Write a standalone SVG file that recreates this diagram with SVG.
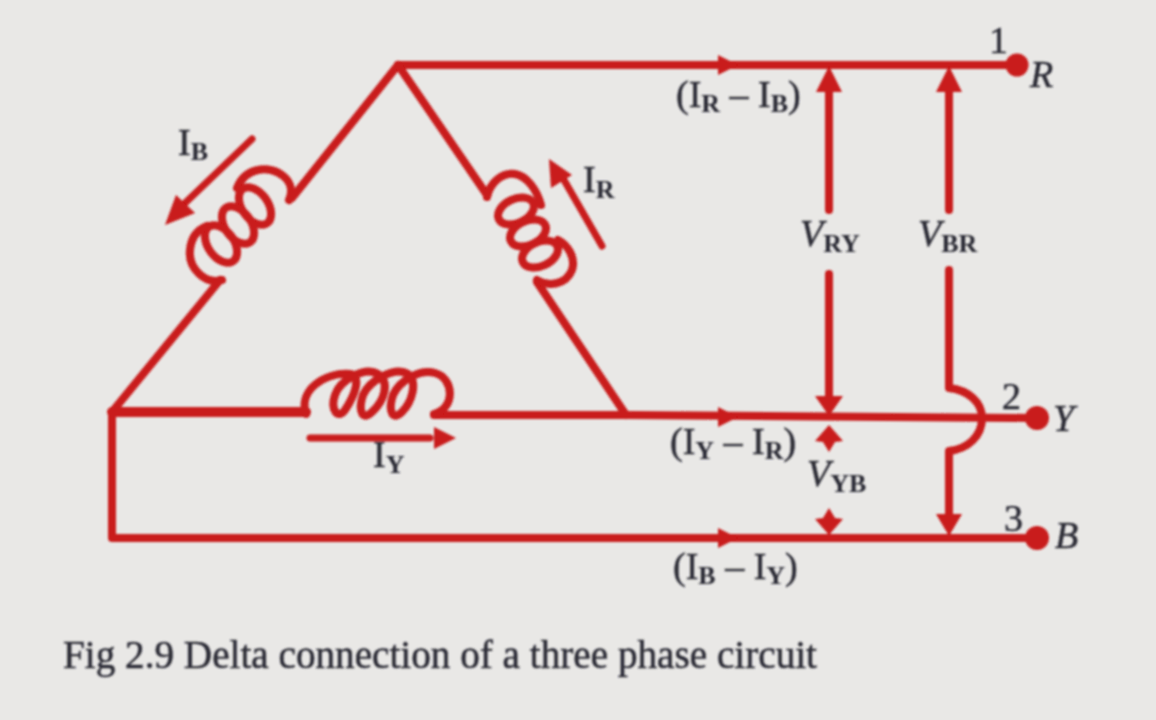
<svg xmlns="http://www.w3.org/2000/svg" width="1156" height="720" viewBox="0 0 1156 720">
<style>
.w{fill:none;stroke:#c91a1a;stroke-width:8;stroke-linecap:round;stroke-linejoin:round}
.t{fill:none;stroke:#c91a1a;stroke-width:7;stroke-linecap:round}
.c{fill:none;stroke:#c91a1a;stroke-width:8;stroke-linecap:round;stroke-linejoin:round}
.h{fill:#c91a1a;stroke:none}
text{font-family:"Liberation Serif","Times New Roman",serif;fill:#2b2b35;font-size:38px;stroke:#2b2b35;stroke-width:.5}
.s{font-size:26px;font-weight:bold;stroke-width:0}
.i{font-style:italic}
</style>
<defs>
<filter id="b" x="-5%" y="-5%" width="110%" height="110%"><feGaussianBlur stdDeviation="0.9"/></filter>
<path id="mid" class="h" d="M718,-10 L738,0 L718,10 Z"/>
</defs>
<rect id="background" width="1156" height="720" fill="#e9e8e6"/>
<g filter="url(#b)">
<g id="connectors">
<path class="w" d="M398,65 H1017"/>
<path class="w" d="M398,65 L292,198 M220,280 L112,412"/>
<path class="w" d="M398,65 L487,195 M537,282 L626,415"/>
<path class="w" style="stroke-width:10" d="M112,412 H306"/>
<path class="w" d="M434,415 L626,415 L1037,418"/>
<path class="w" d="M112,412 V538 H1037"/>
<use href="#mid" y="65"/><use href="#mid" y="417"/><use href="#mid" y="538"/>
<path class="w" d="M829,80 V210 M829,274 V405"/>
<path class="h" d="M829,66 L842,92 L816,92 Z M829,416 L815,396 L843,396 Z"/>
<path class="h" d="M829,425 L843,441 L835,442 L829,452 L823,442 L815,441 Z M829,535 L815,519 L823,518 L829,508 L835,518 L843,519 Z"/>
<path class="w" d="M949,80 V210 M949,270 V388 C968,390 982,402 982,418 C982,436 968,449 949,451 V520"/>
<path class="h" d="M949,66 L962,92 L936,92 Z M949,536 L936,514 L962,514 Z"/>
<path class="t" d="M252,139 L183,205"/>
<path class="h" d="M165,225 L176,195 L195,213 Z"/>
<path class="t" d="M602,246 L564,180"/>
<path class="h" d="M549,159 L572,175 L551,188 Z"/>
<path class="t" d="M310,438 H430"/>
<path class="h" d="M456,438 L434,427 V449 Z"/>
</g>
<g id="coil-b">
<path class="c" d="M289,200 C298,180 275,166 258,170 C248,172 241,178 237,188"/>
<ellipse class="c" cx="255" cy="206" rx="21" ry="13" transform="rotate(55 255 206)"/>
<ellipse class="c" cx="238" cy="225" rx="21" ry="13" transform="rotate(55 238 225)"/>
<ellipse class="c" cx="221" cy="244" rx="21" ry="13" transform="rotate(55 221 244)"/>
<path class="c" d="M222,280 C205,285 188,268 190,250 C191,238 197,230 207,226"/>
</g>
<g id="coil-r">
<path class="c" d="M487,197 C490,182 503,172 515,174 C527,176 537,190 541,205"/>
<ellipse class="c" cx="516" cy="211" rx="19" ry="12" transform="rotate(-25 516 211)"/>
<ellipse class="c" cx="528" cy="233" rx="19" ry="12" transform="rotate(-25 528 233)"/>
<ellipse class="c" cx="540" cy="254" rx="19" ry="12" transform="rotate(-25 540 254)"/>
<path class="c" d="M537,280 C548,287 566,285 572,270 C576,258 568,245 558,240"/>
</g>
<g id="coil-y"><path class="c" d="M306,414 C298,390 325,372 350,374 C362,376 355,395 345,410 C338,420 330,410 335,395 C340,380 365,366 378,374 C390,382 385,400 372,412 C362,422 358,410 363,395 C370,380 395,366 408,374 C418,382 412,402 402,412 C392,422 388,410 393,395 C400,380 420,369 435,373 C454,378 456,408 434,414"/></g>
<g id="terminal-r"><circle class="h" cx="1017" cy="65" r="11.5"/><text x="989" y="53">1</text><text class="i" x="1030" y="87">R</text></g>
<g id="terminal-y"><circle class="h" cx="1037" cy="418" r="12"/><text x="1002" y="409">2</text><text class="i" x="1053" y="431">Y</text></g>
<g id="terminal-b"><circle class="h" cx="1037" cy="538" r="12"/><text x="1004" y="531">3</text><text class="i" x="1055" y="548">B</text></g>
<g id="labels">
<text x="178" y="155">I<tspan class="s" dy="5">B</tspan></text>
<text x="583" y="192">I<tspan class="s" dy="6">R</tspan></text>
<text x="373" y="467">I<tspan class="s" dy="6">Y</tspan></text>
<text x="676" y="107">(I<tspan class="s" dy="5">R</tspan><tspan dy="-5"> – I</tspan><tspan class="s" dy="5">B</tspan><tspan dy="-5">)</tspan></text>
<text x="670" y="454">(I<tspan class="s" dy="5">Y</tspan><tspan dy="-5"> – I</tspan><tspan class="s" dy="5">R</tspan><tspan dy="-5">)</tspan></text>
<text x="673" y="579">(I<tspan class="s" dy="5">B</tspan><tspan dy="-5"> – I</tspan><tspan class="s" dy="5">Y</tspan><tspan dy="-5">)</tspan></text>
<text x="800" y="246"><tspan class="i">V</tspan><tspan class="s" dy="6">RY</tspan></text>
<text x="918" y="246"><tspan class="i">V</tspan><tspan class="s" dy="6">BR</tspan></text>
<text x="807" y="486"><tspan class="i">V</tspan><tspan class="s" dy="6">YB</tspan></text>
<text id="caption" x="63" y="668" style="font-size:39px" textLength="754" lengthAdjust="spacingAndGlyphs">Fig 2.9 Delta connection of a three phase circuit</text>
</g>
</g>
</svg>
